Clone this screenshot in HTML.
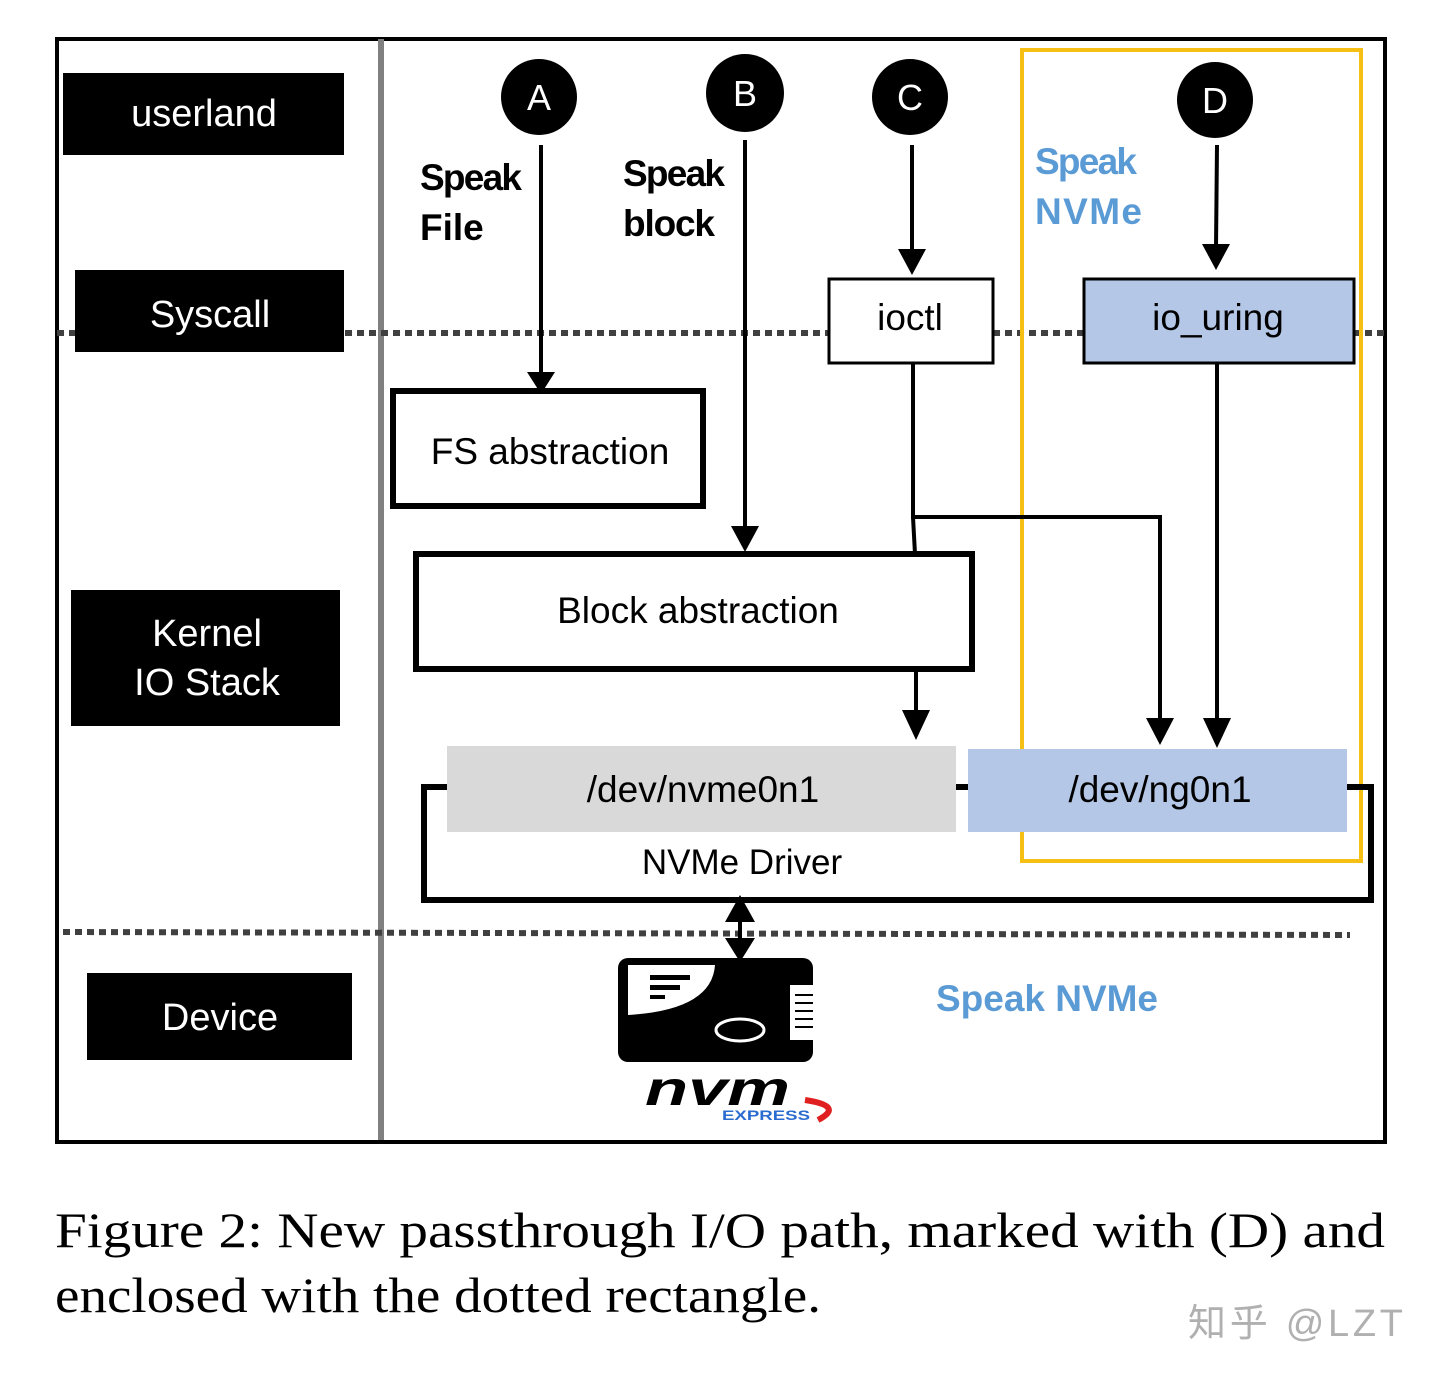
<!DOCTYPE html>
<html><head><meta charset="utf-8"><style>
html,body{margin:0;padding:0;background:#fff;}
svg{display:block;}
</style></head><body>
<svg width="1440" height="1379" viewBox="0 0 1440 1379" xmlns="http://www.w3.org/2000/svg" font-family="'Liberation Sans', sans-serif">
<rect x="0" y="0" width="1440" height="1379" fill="#fff"/>
<rect x="57" y="39" width="1328" height="1103" fill="none" stroke="#000" stroke-width="4"/>
<line x1="381" y1="39" x2="381" y2="1140" stroke="#808080" stroke-width="6"/>
<line x1="57" y1="333" x2="1385" y2="333" stroke="#404040" stroke-width="6" stroke-dasharray="7,5"/>
<line x1="63" y1="932" x2="1350" y2="935" stroke="#404040" stroke-width="6" stroke-dasharray="7,5"/>
<rect x="63" y="73" width="281" height="82" fill="#000"/>
<text x="204" y="126" font-size="38" fill="#fff" text-anchor="middle">userland</text>
<rect x="75" y="270" width="269" height="82" fill="#000"/>
<text x="210" y="327" font-size="38" fill="#fff" text-anchor="middle">Syscall</text>
<rect x="71" y="590" width="269" height="136" fill="#000"/>
<text x="207" y="646" font-size="38" fill="#fff" text-anchor="middle">Kernel</text>
<text x="207" y="695" font-size="38" fill="#fff" text-anchor="middle">IO Stack</text>
<rect x="87" y="973" width="265" height="87" fill="#000"/>
<text x="220" y="1030" font-size="38" fill="#fff" text-anchor="middle">Device</text>
<rect x="1022" y="50" width="339" height="811" fill="none" stroke="#f5bf14" stroke-width="4"/>
<rect x="393" y="391" width="310" height="115" fill="#fff" stroke="#000" stroke-width="6"/>
<text x="550" y="464" font-size="37" text-anchor="middle">FS abstraction</text>
<rect x="416" y="554" width="556" height="115" fill="#fff" stroke="#000" stroke-width="6"/>
<text x="698" y="623" font-size="37" text-anchor="middle">Block abstraction</text>
<rect x="829" y="279" width="164" height="84" fill="#fff" stroke="#000" stroke-width="3"/>
<text x="910" y="330" font-size="37" text-anchor="middle">ioctl</text>
<rect x="1084" y="279" width="270" height="84" fill="#b4c7e7" stroke="#000" stroke-width="3"/>
<text x="1218" y="330" font-size="37" text-anchor="middle">io_uring</text>
<polyline points="447,787 424,787 424,900 1371,900 1371,787 1347,787" fill="none" stroke="#000" stroke-width="6"/>
<line x1="956" y1="787" x2="968" y2="787" stroke="#000" stroke-width="6"/>
<rect x="447" y="746" width="509" height="86" fill="#d9d9d9"/>
<text x="703" y="802" font-size="37" text-anchor="middle">/dev/nvme0n1</text>
<rect x="968" y="749" width="379" height="83" fill="#b4c7e7"/>
<text x="1160" y="802" font-size="37" text-anchor="middle">/dev/ng0n1</text>
<text x="742" y="874" font-size="35" text-anchor="middle">NVMe Driver</text>
<g font-size="36" fill="#fff" text-anchor="middle">
<circle cx="539" cy="97" r="38" fill="#000"/><text x="539" y="110">A</text>
<circle cx="745" cy="93" r="39" fill="#000"/><text x="745" y="106">B</text>
<circle cx="910" cy="97" r="38" fill="#000"/><text x="910" y="110">C</text>
<circle cx="1215" cy="100" r="38" fill="#000"/><text x="1215" y="113">D</text>
</g>
<g font-size="37" font-weight="bold">
<text x="420" y="190" textLength="102">Speak</text><text x="420" y="240">File</text>
<text x="623" y="186" textLength="102">Speak</text><text x="623" y="236" textLength="92">block</text>
<text x="1035" y="174" fill="#5b9bd5" textLength="102">Speak</text><text x="1035" y="224" fill="#5b9bd5" textLength="107">NVMe</text>
<text x="936" y="1011" fill="#5b9bd5" textLength="222">Speak NVMe</text>
</g>
<g stroke="#000" stroke-width="4" fill="none">
<line x1="541" y1="145" x2="541" y2="375"/>
<line x1="745" y1="140" x2="745" y2="528"/>
<line x1="912" y1="145" x2="912" y2="253"/>
<line x1="1217" y1="145" x2="1216" y2="248"/>
<polyline points="913,363 913,517 1160,517 1160,722"/>
<line x1="913" y1="517" x2="915" y2="554"/>
<line x1="916" y1="669" x2="916" y2="714"/>
<line x1="1217" y1="363" x2="1217" y2="722"/>
<line x1="740" y1="915" x2="740" y2="945"/>
</g>
<g fill="#000">
<polygon points="527,372 555,372 541,394"/>
<polygon points="731,526 759,526 745,552"/>
<polygon points="898,249 926,249 912,275"/>
<polygon points="1202,244 1230,244 1216,270"/>
<polygon points="1146,718 1174,718 1160,745"/>
<polygon points="902,710 930,710 916,740"/>
<polygon points="1203,718 1231,718 1217,748"/>
<polygon points="725,922 755,922 740,895"/>
<polygon points="725,938 755,938 740,962"/>
</g>
<rect x="618" y="958" width="195" height="104" rx="10" fill="#000"/>
<path d="M628,965 L715,965 Q712,1010 628,1015 Z" fill="#fff"/>
<rect x="650" y="975" width="40" height="5" fill="#000"/>
<rect x="650" y="985" width="30" height="5" fill="#000"/>
<rect x="650" y="995" width="15" height="4" fill="#000"/>
<ellipse cx="740" cy="1030" rx="24" ry="11" fill="none" stroke="#fff" stroke-width="3"/>
<rect x="790" y="985" width="23" height="55" fill="#fff"/>
<g stroke="#000" stroke-width="2"><line x1="795" y1="995" x2="813" y2="995"/><line x1="795" y1="1003" x2="813" y2="1003"/><line x1="795" y1="1011" x2="813" y2="1011"/><line x1="795" y1="1019" x2="813" y2="1019"/><line x1="795" y1="1027" x2="813" y2="1027"/></g>
<text x="645" y="1105" font-size="48" font-weight="bold" font-style="italic" fill="#000" textLength="145" lengthAdjust="spacingAndGlyphs">nvm</text>
<text x="722" y="1120" font-size="14" font-weight="bold" fill="#2a6ccf" textLength="88" lengthAdjust="spacingAndGlyphs">EXPRESS</text>
<path d="M805,1100 Q845,1106 818,1120" fill="none" stroke="#e02020" stroke-width="6"/>
<g font-family="'Liberation Serif', serif" font-size="50" fill="#000">
<text x="55" y="1247" textLength="1330" lengthAdjust="spacingAndGlyphs">Figure 2: New passthrough I/O path, marked with (D) and</text>
<text x="55" y="1312" textLength="766" lengthAdjust="spacingAndGlyphs">enclosed with the dotted rectangle.</text>
</g>
<text x="1188" y="1336" font-size="38" fill="#b0b0b0" font-family="'Liberation Sans','Noto Sans CJK SC',sans-serif" textLength="215">知乎 @LZT</text>
</svg>
</body></html>
